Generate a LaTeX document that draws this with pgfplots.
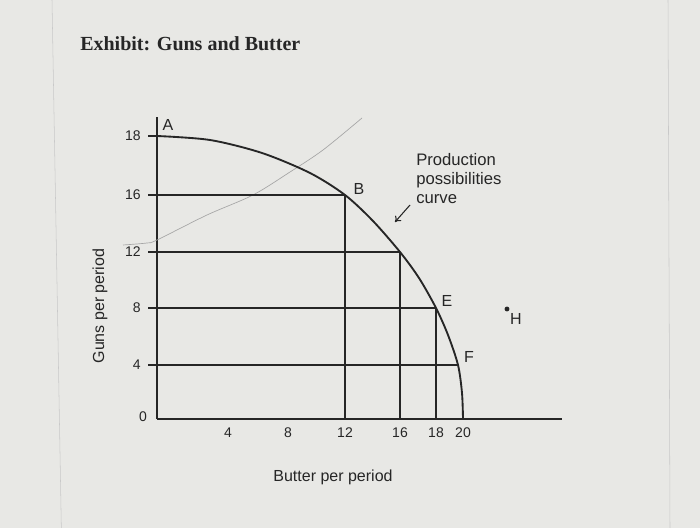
\documentclass[border=0pt]{standalone}
\usepackage{pgfplots}
\pgfplotsset{compat=1.18}
\usetikzlibrary{arrows.meta}
\usepackage{fontspec}
\setmainfont{Liberation Serif}
\setsansfont{Liberation Sans}
\definecolor{bg}{RGB}{232,232,229}
\definecolor{ink}{RGB}{38,38,38}
\definecolor{faint}{RGB}{165,165,165}
\begin{document}
\begin{tikzpicture}
\fill[bg] (0pt,0pt) rectangle (525pt,396pt);
\useasboundingbox (0pt,0pt) rectangle (525pt,396pt);
\draw[faint!60,line width=0.4pt] (39pt,396pt) -- (46pt,0pt);
\draw[faint!60,line width=0.4pt] (501pt,396pt) -- (502.5pt,0pt);
\node[anchor=west,inner sep=0pt,font=\bfseries\fontsize{15}{18}\selectfont,text=black!85] at (60pt,363pt) {Exhibit: Guns and Butter};
\begin{axis}[
  at={(117.75pt,81.75pt)}, anchor=south west,
  scale only axis, width=303.75pt, height=226.5pt,
  xmin=0, xmax=405, ymin=0, ymax=302,
  axis lines=left,
  axis line style={-, line width=1.3pt, ink},
  xtick={71,131,188,243,279,306},
  xticklabels={4,8,12,16,18,20},
  ytick={54,111,167,224,283},
  yticklabels={4,8,12,16,18},
  x tick style={draw=none},
  y tick style={line width=1pt, ink},
  tick align=outside,
  major tick length=6.75pt,
  tick label style={font=\sffamily\fontsize{10.5}{12}\selectfont, text=ink},
  xticklabel style={yshift=3.5pt},
  yticklabel style={xshift=-2pt},
  clip=false,
]
% faint pen stroke
\addplot[faint, line width=0.5pt, smooth] coordinates {
  (-34,174) (-10,176) (0,179) (50,204) (96,224) (133,247) (166,269) (205,301)
};
% grid lines from axes to the curve
\addplot[ink, line width=1.1pt] coordinates {(0,224) (188,224)};
\addplot[ink, line width=1.1pt] coordinates {(0,167) (243,167)};
\addplot[ink, line width=1.1pt] coordinates {(0,111) (279,111)};
\addplot[ink, line width=1.1pt] coordinates {(0,54) (301,54)};
\addplot[ink, line width=1.1pt] coordinates {(188,0) (188,224)};
\addplot[ink, line width=1.1pt] coordinates {(243,0) (243,167)};
\addplot[ink, line width=1.1pt] coordinates {(279,0) (279,111)};
% production possibilities curve
\addplot[ink, line width=1.4pt, smooth, tension=0.5] coordinates {
  (0,283) (53,279) (105,266) (153,246) (188,224) (216,198) (243,167)
  (262,141) (279,111) (291,84) (301,54) (305,26) (306,0)
};
% point H
\addplot[only marks, mark=*, mark size=1.6pt, ink] coordinates {(350,110)};
\node[font=\sffamily\fontsize{10.5}{12}\selectfont,text=ink] at (axis cs:-14,2) {0};
\node[font=\sffamily\fontsize{12}{14}\selectfont,text=ink] at (axis cs:11,294) {A};
\node[font=\sffamily\fontsize{12}{14}\selectfont,text=ink] at (axis cs:202,230) {B};
\node[font=\sffamily\fontsize{12}{14}\selectfont,text=ink] at (axis cs:290,118) {E};
\node[font=\sffamily\fontsize{12}{14}\selectfont,text=ink] at (axis cs:312,62) {F};
\node[font=\sffamily\fontsize{12}{14}\selectfont,text=ink] at (axis cs:359,100) {H};
\node[anchor=north west, align=left, inner sep=0pt, font=\sffamily\fontsize{12.5}{14.25}\selectfont,text=ink] at (axis cs:259,266) {Production\\possibilities\\curve};
\draw[ink, line width=0.8pt, -{To[length=4pt,width=6pt]}] (axis cs:253,214) -- (axis cs:238,197);
\node[font=\sffamily\fontsize{12}{14}\selectfont,text=ink] at (axis cs:176,-58) {Butter per period};
\node[rotate=90, font=\sffamily\fontsize{12}{14}\selectfont,text=ink] at (axis cs:-57,113) {Guns per period};
\end{axis}
\end{tikzpicture}
\end{document}
